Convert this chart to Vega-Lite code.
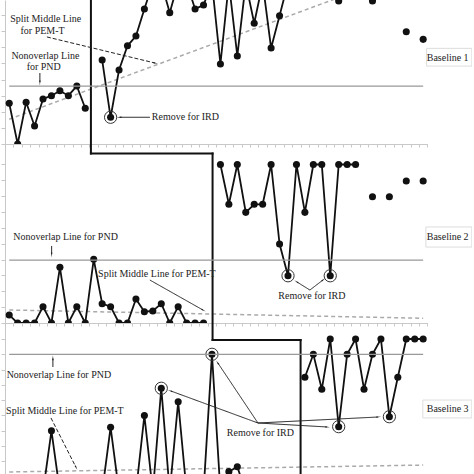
{
  "$schema": "https://vega.github.io/schema/vega-lite/v6.json",
  "padding": 0,
  "autosize": {"type": "pad"},
  "bounds": "flush",
  "spacing": 0,
  "config": {
    "view": {"stroke": null},
    "axis": {"labels": false, "title": null, "grid": false, "domainColor": "#c8c8c8", "tickColor": "#c8c8c8", "domainWidth": 1, "tickWidth": 1},
    "text": {"font": "Liberation Serif", "fontSize": 10, "color": "#222"}
  },
  "datasets": {
    "series": [
      {"panel":1,"session":1,"value":25.3,"phase":"A"},{"panel":1,"session":2,"value":0,"phase":"A"},{"panel":1,"session":3,"value":25.9,"phase":"A"},{"panel":1,"session":4,"value":11.2,"phase":"A"},{"panel":1,"session":5,"value":28,"phase":"A"},{"panel":1,"session":6,"value":30,"phase":"A"},{"panel":1,"session":7,"value":33.1,"phase":"A"},{"panel":1,"session":8,"value":30,"phase":"A"},{"panel":1,"session":9,"value":36,"phase":"A"},{"panel":1,"session":10,"value":22.2,"phase":"A"},
      {"panel":1,"session":12,"value":52.2,"phase":"B"},{"panel":1,"session":13,"value":16.6,"phase":"B"},{"panel":1,"session":14,"value":46,"phase":"B"},{"panel":1,"session":15,"value":61,"phase":"B"},{"panel":1,"session":16,"value":67.1,"phase":"B"},{"panel":1,"session":17,"value":83.9,"phase":"B"},{"panel":1,"session":18,"value":100,"phase":"B"},{"panel":1,"session":19,"value":100,"phase":"B"},{"panel":1,"session":20,"value":81.6,"phase":"B"},{"panel":1,"session":21,"value":100,"phase":"B"},{"panel":1,"session":22,"value":100,"phase":"B"},{"panel":1,"session":23,"value":83.9,"phase":"B"},{"panel":1,"session":24,"value":86.3,"phase":"B"},{"panel":1,"session":25,"value":100,"phase":"B"},{"panel":1,"session":26,"value":49.7,"phase":"B"},{"panel":1,"session":27,"value":100,"phase":"B"},{"panel":1,"session":28,"value":54.7,"phase":"B"},{"panel":1,"session":29,"value":100,"phase":"B"},{"panel":1,"session":30,"value":75,"phase":"B"},{"panel":1,"session":31,"value":100,"phase":"B"},{"panel":1,"session":32,"value":59.6,"phase":"B"},{"panel":1,"session":33,"value":79.7,"phase":"B"},{"panel":1,"session":34,"value":100,"phase":"B"},
      {"panel":1,"session":40,"value":88.8,"phase":"M"},{"panel":1,"session":44,"value":88.8,"phase":"M"},{"panel":1,"session":48,"value":69.7,"phase":"M"},{"panel":1,"session":50,"value":65,"phase":"M"},
      {"panel":2,"session":1,"value":5,"phase":"A"},{"panel":2,"session":2,"value":0,"phase":"A"},{"panel":2,"session":3,"value":0,"phase":"A"},{"panel":2,"session":4,"value":0,"phase":"A"},{"panel":2,"session":5,"value":10.3,"phase":"A"},{"panel":2,"session":6,"value":0,"phase":"A"},{"panel":2,"session":7,"value":35.1,"phase":"A"},{"panel":2,"session":8,"value":0,"phase":"A"},{"panel":2,"session":9,"value":10.3,"phase":"A"},{"panel":2,"session":10,"value":0,"phase":"A"},{"panel":2,"session":11,"value":40.2,"phase":"A"},{"panel":2,"session":12,"value":12.2,"phase":"A"},{"panel":2,"session":13,"value":10.3,"phase":"A"},{"panel":2,"session":14,"value":0,"phase":"A"},{"panel":2,"session":15,"value":0,"phase":"A"},{"panel":2,"session":16,"value":15.1,"phase":"A"},{"panel":2,"session":17,"value":7.1,"phase":"A"},{"panel":2,"session":18,"value":7.6,"phase":"A"},{"panel":2,"session":19,"value":12.2,"phase":"A"},{"panel":2,"session":20,"value":0,"phase":"A"},{"panel":2,"session":21,"value":10.3,"phase":"A"},{"panel":2,"session":22,"value":0,"phase":"A"},{"panel":2,"session":23,"value":0,"phase":"A"},{"panel":2,"session":24,"value":0,"phase":"A"},
      {"panel":2,"session":26,"value":100,"phase":"B"},{"panel":2,"session":27,"value":74.9,"phase":"B"},{"panel":2,"session":28,"value":100,"phase":"B"},{"panel":2,"session":29,"value":69.8,"phase":"B"},{"panel":2,"session":30,"value":74.9,"phase":"B"},{"panel":2,"session":31,"value":74.9,"phase":"B"},{"panel":2,"session":32,"value":100,"phase":"B"},{"panel":2,"session":33,"value":49.8,"phase":"B"},{"panel":2,"session":34,"value":29.8,"phase":"B"},{"panel":2,"session":35,"value":100,"phase":"B"},{"panel":2,"session":36,"value":69.8,"phase":"B"},{"panel":2,"session":37,"value":100,"phase":"B"},{"panel":2,"session":38,"value":100,"phase":"B"},{"panel":2,"session":39,"value":29.8,"phase":"B"},{"panel":2,"session":40,"value":100,"phase":"B"},{"panel":2,"session":41,"value":100,"phase":"B"},{"panel":2,"session":42,"value":100,"phase":"B"},
      {"panel":2,"session":44,"value":79.7,"phase":"M"},{"panel":2,"session":46,"value":79.7,"phase":"M"},{"panel":2,"session":48,"value":89.6,"phase":"M"},{"panel":2,"session":50,"value":89.6,"phase":"M"},
      {"panel":3,"session":1,"value":0,"phase":"A"},{"panel":3,"session":2,"value":0,"phase":"A"},{"panel":3,"session":3,"value":0,"phase":"A"},{"panel":3,"session":4,"value":0,"phase":"A"},{"panel":3,"session":5,"value":0,"phase":"A"},{"panel":3,"session":6,"value":40,"phase":"A"},{"panel":3,"session":7,"value":0,"phase":"A"},{"panel":3,"session":8,"value":0,"phase":"A"},{"panel":3,"session":9,"value":0,"phase":"A"},{"panel":3,"session":10,"value":0,"phase":"A"},{"panel":3,"session":11,"value":0,"phase":"A"},{"panel":3,"session":12,"value":0,"phase":"A"},{"panel":3,"session":13,"value":42.3,"phase":"A"},{"panel":3,"session":14,"value":0,"phase":"A"},{"panel":3,"session":15,"value":0,"phase":"A"},{"panel":3,"session":16,"value":0,"phase":"A"},{"panel":3,"session":17,"value":50,"phase":"A"},{"panel":3,"session":18,"value":0,"phase":"A"},{"panel":3,"session":19,"value":67.8,"phase":"A"},{"panel":3,"session":20,"value":0,"phase":"A"},{"panel":3,"session":21,"value":59,"phase":"A"},{"panel":3,"session":22,"value":0,"phase":"A"},{"panel":3,"session":23,"value":0,"phase":"A"},{"panel":3,"session":24,"value":0,"phase":"A"},{"panel":3,"session":25,"value":90,"phase":"A"},{"panel":3,"session":26,"value":0,"phase":"A"},{"panel":3,"session":27,"value":13.3,"phase":"A"},{"panel":3,"session":28,"value":16.5,"phase":"A"},{"panel":3,"session":29,"value":0,"phase":"A"},{"panel":3,"session":30,"value":0,"phase":"A"},{"panel":3,"session":31,"value":0,"phase":"A"},{"panel":3,"session":32,"value":0,"phase":"A"},{"panel":3,"session":33,"value":0,"phase":"A"},{"panel":3,"session":34,"value":0,"phase":"A"},{"panel":3,"session":35,"value":0,"phase":"A"},
      {"panel":3,"session":36,"value":75,"phase":"B"},{"panel":3,"session":37,"value":90,"phase":"B"},{"panel":3,"session":38,"value":67.1,"phase":"B"},{"panel":3,"session":39,"value":100,"phase":"B"},{"panel":3,"session":40,"value":42.7,"phase":"B"},{"panel":3,"session":41,"value":90,"phase":"B"},{"panel":3,"session":42,"value":100,"phase":"B"},{"panel":3,"session":43,"value":67.1,"phase":"B"},{"panel":3,"session":44,"value":90,"phase":"B"},{"panel":3,"session":45,"value":100,"phase":"B"},{"panel":3,"session":46,"value":49.2,"phase":"B"},{"panel":3,"session":47,"value":75,"phase":"B"},{"panel":3,"session":48,"value":100,"phase":"B"},{"panel":3,"session":49,"value":100,"phase":"B"},{"panel":3,"session":50,"value":100,"phase":"B"}
    ],
    "circled": [
      {"panel":1,"session":13,"value":16.6},
      {"panel":2,"session":34,"value":29.8},{"panel":2,"session":39,"value":29.8},
      {"panel":3,"session":19,"value":67.8},{"panel":3,"session":25,"value":90},{"panel":3,"session":40,"value":42.7},{"panel":3,"session":46,"value":49.2}
    ],
    "pnd": [
      {"panel":1,"session":1,"session2":50,"value":36},
      {"panel":2,"session":1,"session2":50,"value":39.7},
      {"panel":3,"session":1,"session2":50,"value":90}
    ],
    "splitmid": [
      {"panel":1,"session":1,"session2":50,"value":15.4,"value2":110.3},
      {"panel":2,"session":1,"session2":50,"value":8.2,"value2":3.0},
      {"panel":3,"session":1,"session2":50,"value":13.1,"value2":17.6}
    ],
    "phaseline": [
      {"panel":1,"session":10.67,"session2":10.67,"value":-20,"value2":120},
      {"panel":2,"session":10.67,"session2":10.67,"value":130,"value2":106.9},
      {"panel":2,"session":10.67,"session2":25.07,"value":106.9,"value2":106.9},
      {"panel":2,"session":25.07,"session2":25.07,"value":106.9,"value2":-20},
      {"panel":3,"session":25.07,"session2":25.07,"value":130,"value2":99.3},
      {"panel":3,"session":25.07,"session2":35.49,"value":99.3,"value2":99.3},
      {"panel":3,"session":35.49,"session2":35.49,"value":99.3,"value2":-20}
    ],
    "labels": [
      {"panel":1,"session":5.31,"value":77.6,"text":"Split Middle Line"},
      {"panel":1,"session":4.95,"value":70.2,"text":"for PEM-T"},
      {"panel":1,"session":5.28,"value":54.7,"text":"Nonoverlap Line"},
      {"panel":1,"session":5.08,"value":47.8,"text":"for PND"},
      {"panel":1,"session":21.85,"value":16.6,"text":"Remove for IRD"},
      {"panel":1,"session":52.9,"value":53.6,"text":"Baseline 1"},
      {"panel":2,"session":7.67,"value":54.4,"text":"Nonoverlap Line for PND"},
      {"panel":2,"session":18.48,"value":30.9,"text":"Split Middle Line for PEM-T"},
      {"panel":2,"session":36.83,"value":17.2,"text":"Remove for IRD"},
      {"panel":2,"session":52.9,"value":54.4,"text":"Baseline 2"},
      {"panel":3,"session":6.88,"value":76.5,"text":"Nonoverlap Line for PND"},
      {"panel":3,"session":7.59,"value":53.1,"text":"Split Middle Line for PEM-T"},
      {"panel":3,"session":30.73,"value":38.4,"text":"Remove for IRD"},
      {"panel":3,"session":52.9,"value":54.2,"text":"Baseline 3"}
    ],
    "boxes": [
      {"panel":1,"session":50.4,"session2":55.76,"value":59.4,"value2":48.4},
      {"panel":2,"session":50.32,"session2":55.76,"value":60.6,"value2":47.9},
      {"panel":3,"session":49.96,"session2":55.76,"value":60.1,"value2":48.4}
    ],
    "arrows": [
      {"panel":1,"session":5.46,"value":66.5,"session2":18.25,"value2":50.3,"angle":103.5,"dash":"dashed"},
      {"panel":1,"session":4.63,"value":44.1,"session2":4.63,"value2":38.5,"angle":180,"dash":"solid"},
      {"panel":1,"session":17.65,"value":16.6,"session2":14.1,"value2":16.6,"angle":270,"dash":"solid"},
      {"panel":2,"session":6.02,"value":48.6,"session2":6.02,"value2":43.5,"angle":180,"dash":"solid"},
      {"panel":2,"session":17.65,"value":27.1,"session2":23.93,"value2":8.2,"angle":119.5,"dash":"solid"},
      {"panel":2,"session":36.59,"value":20.8,"session2":35.05,"value2":25.9,"angle":302,"dash":"solid"},
      {"panel":2,"session":36.59,"value":20.8,"session2":38.13,"value2":27.1,"angle":53,"dash":"solid"},
      {"panel":3,"session":6.17,"value":81.7,"session2":6.17,"value2":87.2,"angle":0,"dash":"solid"},
      {"panel":3,"session":5.94,"value":48.4,"session2":8.89,"value2":16.3,"angle":153,"dash":"dashed"},
      {"panel":3,"session":30.44,"value":45.1,"session2":25.7,"value2":84.3,"angle":326,"dash":"solid"},
      {"panel":3,"session":30.44,"value":45.1,"session2":20.14,"value2":66.0,"angle":290,"dash":"solid"},
      {"panel":3,"session":30.44,"value":45.1,"session2":38.6,"value2":42.5,"angle":93,"dash":"solid"},
      {"panel":3,"session":30.44,"value":45.1,"session2":44.64,"value2":49.0,"angle":87,"dash":"solid"}
    ]
  },
  "vconcat": [
    {
      "width": 422.4,
      "height": 144,
      "encoding": {
        "x": {"field": "session", "type": "quantitative", "scale": {"domain": [0.5, 50.5], "nice": false, "zero": false},
              "axis": {"values": [0.5,1.5,2.5,3.5,4.5,5.5,6.5,7.5,8.5,9.5,10.5,11.5,12.5,13.5,14.5,15.5,16.5,17.5,18.5,19.5,20.5,21.5,22.5,23.5,24.5,25.5,26.5,27.5,28.5,29.5,30.5,31.5,32.5,33.5,34.5,35.5,36.5,37.5,38.5,39.5,40.5,41.5,42.5,43.5,44.5,45.5,46.5,47.5,48.5,49.5,50.5], "tickSize": 3}},
        "y": {"field": "value", "type": "quantitative", "scale": {"domain": [0, 89.44], "nice": false, "zero": false},
              "axis": {"values": [0,10,20,30,40,50,60,70,80], "tickSize": 4}}
      },
      "layer": [
        {"data": {"name": "boxes"}, "transform": [{"filter": "datum.panel == 1"}], "mark": {"type": "rect", "fill": "white", "stroke": "#dddddd", "strokeWidth": 1}, "encoding": {"x2": {"field": "session2"}, "y2": {"field": "value2"}}},
        {"data": {"name": "splitmid"}, "transform": [{"filter": "datum.panel == 1"}], "mark": {"type": "rule", "clip": true, "color": "#aaaaaa", "strokeWidth": 1.5, "strokeDash": [4, 3]}, "encoding": {"x2": {"field": "session2"}, "y2": {"field": "value2"}}},
        {"data": {"name": "phaseline"}, "transform": [{"filter": "datum.panel == 1"}], "mark": {"type": "rule", "clip": true, "color": "#111111", "strokeWidth": 2, "strokeCap": "square"}, "encoding": {"x2": {"field": "session2"}, "y2": {"field": "value2"}}},
        {"data": {"name": "series"}, "transform": [{"filter": "datum.panel == 1 && datum.phase != 'M'"}], "mark": {"type": "line", "clip": true, "color": "#111111", "strokeWidth": 1.8}, "encoding": {"detail": {"field": "phase"}}},
        {"data": {"name": "series"}, "transform": [{"filter": "datum.panel == 1"}], "mark": {"type": "point", "clip": true, "filled": true, "color": "#111111", "size": 50, "opacity": 1}, "encoding": {}},
        {"data": {"name": "circled"}, "transform": [{"filter": "datum.panel == 1"}], "mark": {"type": "point", "clip": true, "filled": false, "color": "#333333", "size": 150, "strokeWidth": 1, "opacity": 1}, "encoding": {}},
        {"data": {"name": "pnd"}, "transform": [{"filter": "datum.panel == 1"}], "mark": {"type": "rule", "color": "#999999", "strokeWidth": 1.3}, "encoding": {"x2": {"field": "session2"}}},
        {"data": {"name": "arrows"}, "transform": [{"filter": "datum.panel == 1"}], "mark": {"type": "rule", "color": "#222222", "strokeWidth": 1}, "encoding": {"x2": {"field": "session2"}, "y2": {"field": "value2"}, "strokeDash": {"field": "dash", "type": "nominal", "scale": {"domain": ["solid", "dashed"], "range": [[1, 0], [4, 2]]}, "legend": null}}},
        {"data": {"name": "arrows"}, "transform": [{"filter": "datum.panel == 1"}], "mark": {"type": "point", "shape": "wedge", "filled": true, "color": "#222222", "size": 30, "opacity": 1}, "encoding": {"x": {"field": "session2", "type": "quantitative"}, "y": {"field": "value2", "type": "quantitative"}, "angle": {"field": "angle", "type": "quantitative", "scale": null}}},
        {"data": {"name": "labels"}, "transform": [{"filter": "datum.panel == 1"}], "mark": {"type": "text", "align": "center", "baseline": "middle"}, "encoding": {"text": {"field": "text"}}}
      ]
    },
    {
      "width": 422.4,
      "height": 179,
      "encoding": {
        "x": {"field": "session", "type": "quantitative", "scale": {"domain": [0.5, 50.5], "nice": false, "zero": false},
              "axis": {"values": [0.5,1.5,2.5,3.5,4.5,5.5,6.5,7.5,8.5,9.5,10.5,11.5,12.5,13.5,14.5,15.5,16.5,17.5,18.5,19.5,20.5,21.5,22.5,23.5,24.5,25.5,26.5,27.5,28.5,29.5,30.5,31.5,32.5,33.5,34.5,35.5,36.5,37.5,38.5,39.5,40.5,41.5,42.5,43.5,44.5,45.5,46.5,47.5,48.5,49.5,50.5], "tickSize": 3}},
        "y": {"field": "value", "type": "quantitative", "scale": {"domain": [0, 112.93], "nice": false, "zero": false},
              "axis": {"values": [0,10,20,30,40,50,60,70,80,90,100], "tickSize": 4}}
      },
      "layer": [
        {"data": {"name": "boxes"}, "transform": [{"filter": "datum.panel == 2"}], "mark": {"type": "rect", "fill": "white", "stroke": "#dddddd", "strokeWidth": 1}, "encoding": {"x2": {"field": "session2"}, "y2": {"field": "value2"}}},
        {"data": {"name": "splitmid"}, "transform": [{"filter": "datum.panel == 2"}], "mark": {"type": "rule", "clip": true, "color": "#aaaaaa", "strokeWidth": 1.5, "strokeDash": [4, 3]}, "encoding": {"x2": {"field": "session2"}, "y2": {"field": "value2"}}},
        {"data": {"name": "phaseline"}, "transform": [{"filter": "datum.panel == 2"}], "mark": {"type": "rule", "clip": true, "color": "#111111", "strokeWidth": 2, "strokeCap": "square"}, "encoding": {"x2": {"field": "session2"}, "y2": {"field": "value2"}}},
        {"data": {"name": "series"}, "transform": [{"filter": "datum.panel == 2 && datum.phase != 'M'"}], "mark": {"type": "line", "clip": true, "color": "#111111", "strokeWidth": 1.8}, "encoding": {"detail": {"field": "phase"}}},
        {"data": {"name": "series"}, "transform": [{"filter": "datum.panel == 2"}], "mark": {"type": "point", "clip": true, "filled": true, "color": "#111111", "size": 50, "opacity": 1}, "encoding": {}},
        {"data": {"name": "circled"}, "transform": [{"filter": "datum.panel == 2"}], "mark": {"type": "point", "clip": true, "filled": false, "color": "#333333", "size": 150, "strokeWidth": 1, "opacity": 1}, "encoding": {}},
        {"data": {"name": "pnd"}, "transform": [{"filter": "datum.panel == 2"}], "mark": {"type": "rule", "color": "#999999", "strokeWidth": 1.3}, "encoding": {"x2": {"field": "session2"}}},
        {"data": {"name": "arrows"}, "transform": [{"filter": "datum.panel == 2"}], "mark": {"type": "rule", "color": "#222222", "strokeWidth": 1}, "encoding": {"x2": {"field": "session2"}, "y2": {"field": "value2"}, "strokeDash": {"field": "dash", "type": "nominal", "scale": {"domain": ["solid", "dashed"], "range": [[1, 0], [4, 2]]}, "legend": null}}},
        {"data": {"name": "arrows"}, "transform": [{"filter": "datum.panel == 2"}], "mark": {"type": "point", "shape": "wedge", "filled": true, "color": "#222222", "size": 30, "opacity": 1}, "encoding": {"x": {"field": "session2", "type": "quantitative"}, "y": {"field": "value2", "type": "quantitative"}, "angle": {"field": "angle", "type": "quantitative", "scale": null}}},
        {"data": {"name": "labels"}, "transform": [{"filter": "datum.panel == 2"}], "mark": {"type": "text", "align": "center", "baseline": "middle"}, "encoding": {"text": {"field": "text"}}}
      ]
    },
    {
      "width": 422.4,
      "height": 151,
      "encoding": {
        "x": {"field": "session", "type": "quantitative", "scale": {"domain": [0.5, 50.5], "nice": false, "zero": false}, "axis": null},
        "y": {"field": "value", "type": "quantitative", "scale": {"domain": [11.76, 110.46], "nice": false, "zero": false},
              "axis": {"values": [20,30,40,50,60,70,80,90,100], "tickSize": 4}}
      },
      "layer": [
        {"data": {"name": "boxes"}, "transform": [{"filter": "datum.panel == 3"}], "mark": {"type": "rect", "fill": "white", "stroke": "#dddddd", "strokeWidth": 1}, "encoding": {"x2": {"field": "session2"}, "y2": {"field": "value2"}}},
        {"data": {"name": "splitmid"}, "transform": [{"filter": "datum.panel == 3"}], "mark": {"type": "rule", "clip": true, "color": "#aaaaaa", "strokeWidth": 1.5, "strokeDash": [4, 3]}, "encoding": {"x2": {"field": "session2"}, "y2": {"field": "value2"}}},
        {"data": {"name": "phaseline"}, "transform": [{"filter": "datum.panel == 3"}], "mark": {"type": "rule", "clip": true, "color": "#111111", "strokeWidth": 2, "strokeCap": "square"}, "encoding": {"x2": {"field": "session2"}, "y2": {"field": "value2"}}},
        {"data": {"name": "series"}, "transform": [{"filter": "datum.panel == 3 && datum.phase != 'M'"}], "mark": {"type": "line", "clip": true, "color": "#111111", "strokeWidth": 1.8}, "encoding": {"detail": {"field": "phase"}}},
        {"data": {"name": "series"}, "transform": [{"filter": "datum.panel == 3"}], "mark": {"type": "point", "clip": true, "filled": true, "color": "#111111", "size": 50, "opacity": 1}, "encoding": {}},
        {"data": {"name": "circled"}, "transform": [{"filter": "datum.panel == 3"}], "mark": {"type": "point", "clip": true, "filled": false, "color": "#333333", "size": 150, "strokeWidth": 1, "opacity": 1}, "encoding": {}},
        {"data": {"name": "pnd"}, "transform": [{"filter": "datum.panel == 3"}], "mark": {"type": "rule", "color": "#999999", "strokeWidth": 1.3}, "encoding": {"x2": {"field": "session2"}}},
        {"data": {"name": "arrows"}, "transform": [{"filter": "datum.panel == 3"}], "mark": {"type": "rule", "color": "#222222", "strokeWidth": 1}, "encoding": {"x2": {"field": "session2"}, "y2": {"field": "value2"}, "strokeDash": {"field": "dash", "type": "nominal", "scale": {"domain": ["solid", "dashed"], "range": [[1, 0], [4, 2]]}, "legend": null}}},
        {"data": {"name": "arrows"}, "transform": [{"filter": "datum.panel == 3"}], "mark": {"type": "point", "shape": "wedge", "filled": true, "color": "#222222", "size": 30, "opacity": 1}, "encoding": {"x": {"field": "session2", "type": "quantitative"}, "y": {"field": "value2", "type": "quantitative"}, "angle": {"field": "angle", "type": "quantitative", "scale": null}}},
        {"data": {"name": "labels"}, "transform": [{"filter": "datum.panel == 3"}], "mark": {"type": "text", "align": "center", "baseline": "middle"}, "encoding": {"text": {"field": "text"}}}
      ]
    }
  ]
}
